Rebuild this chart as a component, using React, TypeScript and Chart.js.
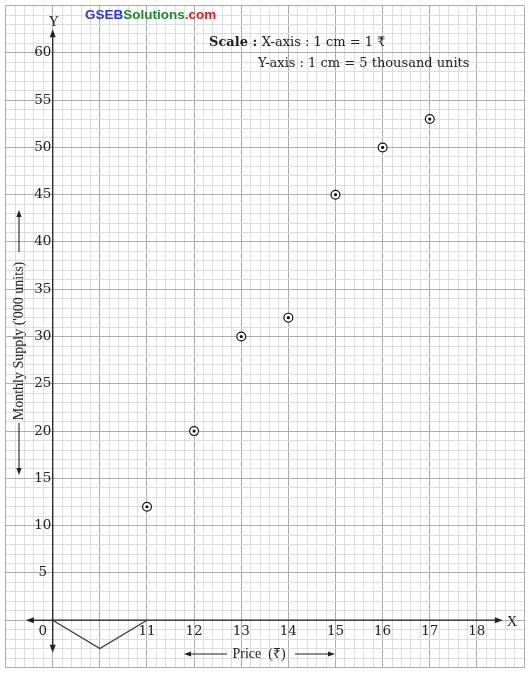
import React, { useRef, useEffect } from "react";
import Chart from "chart.js/auto";

// price (₹) against monthly supply ('000 units)
const prices = [11, 12, 13, 14, 15, 16, 17];
const supply = [12, 20, 30, 32, 45, 50, 53];

// the x axis is broken between 0 and 11: the origin stands at price 9 and is labelled "0"
const originX = 9;
const xTicks = [11, 12, 13, 14, 15, 16, 17, 18];
const yTicks = [5, 10, 15, 20, 25, 30, 35, 40, 45, 50, 55, 60];
const breakMark = [
  { x: 9, y: 0 },
  { x: 10, y: -3 },
  { x: 11, y: 0 },
];
// axis extents (data units), arrow tip at each end
const xAxisSpan = [8.43, 18.55];
const yAxisSpan = [-3.45, 62.5];

const INK = "#222";
const SERIF = '"DejaVu Serif", serif';
const TIMES = '"Liberation Serif", serif';

function arrow(ctx: CanvasRenderingContext2D, x1: number, y1: number, x2: number, y2: number, len = 8, half = 3) {
  const a = Math.atan2(y2 - y1, x2 - x1);
  ctx.beginPath();
  ctx.moveTo(x1, y1);
  ctx.lineTo(x2 - Math.cos(a) * len * 0.6, y2 - Math.sin(a) * len * 0.6);
  ctx.stroke();
  ctx.beginPath();
  ctx.moveTo(x2, y2);
  ctx.lineTo(x2 - Math.cos(a) * len - Math.sin(a) * half, y2 - Math.sin(a) * len + Math.cos(a) * half);
  ctx.lineTo(x2 - Math.cos(a) * len + Math.sin(a) * half, y2 - Math.sin(a) * len - Math.cos(a) * half);
  ctx.closePath();
  ctx.fill();
}

const paperPlugin = {
  id: "paper",
  beforeDraw(chart: any) {
    const { ctx, width, height } = chart;
    ctx.save();
    ctx.fillStyle = "#fff";
    ctx.fillRect(0, 0, width, height);
    ctx.restore();
  },
  beforeDatasetsDraw(chart: any) {
    const { ctx } = chart;
    const { x, y } = chart.scales;
    const px = (v: number) => x.getPixelForValue(v);
    const py = (v: number) => y.getPixelForValue(v);
    ctx.save();
    ctx.strokeStyle = INK;
    ctx.fillStyle = INK;
    ctx.lineWidth = 1.3;
    // both ends of each axis carry an arrow
    const x0 = px(originX);
    const y0 = py(0);
    arrow(ctx, x0, y0, px(xAxisSpan[1]), y0);
    arrow(ctx, x0, y0, px(xAxisSpan[0]), y0);
    arrow(ctx, x0, y0, x0, py(yAxisSpan[1]));
    arrow(ctx, x0, y0, x0, py(yAxisSpan[0]));

    // tick labels
    ctx.fillStyle = INK;
    ctx.font = "13.5px " + SERIF;
    ctx.textAlign = "center";
    ctx.textBaseline = "middle";
    xTicks.forEach((t) => ctx.fillText(String(t), px(t), y0 + 11));
    ctx.fillText("0", x0 - 10, y0 + 11);
    yTicks.forEach((t) => ctx.fillText(String(t), x0 - 10, py(t)));

    // axis names
    ctx.font = "14px " + TIMES;
    ctx.fillText("Y", x0 + 1, 22);
    ctx.fillText("X", 512, y0 + 2);
    ctx.restore();
  },
  afterDraw(chart: any) {
    const { ctx } = chart;
    ctx.save();
    ctx.fillStyle = INK;
    ctx.strokeStyle = INK;
    ctx.lineWidth = 1.1;

    // y axis title, rotated, with arrows either side
    ctx.save();
    ctx.translate(19, 341);
    ctx.rotate(-Math.PI / 2);
    ctx.font = "14px " + TIMES;
    ctx.textAlign = "center";
    ctx.textBaseline = "middle";
    ctx.fillText("Monthly Supply ('000 units)", 0, 0);
    ctx.restore();
    arrow(ctx, 19, 252, 19, 210, 7, 2.6);
    arrow(ctx, 19, 423, 19, 475, 7, 2.6);

    // x axis title
    ctx.font = "14px " + TIMES;
    ctx.textAlign = "center";
    ctx.textBaseline = "middle";
    ctx.fillText("Price  (₹)", 259, 654);
    arrow(ctx, 227, 654, 184, 654, 7, 2.6);
    arrow(ctx, 295, 654, 335, 654, 7, 2.6);

    // scale note
    ctx.textAlign = "left";
    ctx.textBaseline = "alphabetic";
    ctx.font = "bold 13px " + SERIF;
    ctx.fillText("Scale :", 209, 46);
    const w = ctx.measureText("Scale : ").width;
    ctx.font = "13px " + SERIF;
    ctx.fillText("X-axis : 1 cm = 1 ₹", 209 + w, 46);
    ctx.fillText("Y-axis : 1 cm = 5 thousand units", 258, 66.5);

    // site watermark
    ctx.font = 'bold 13.5px "Liberation Sans", sans-serif';
    const parts: [string, string][] = [
      ["GSEB", "#2a37d8"],
      ["Solutions", "#1c8a2a"],
      [".com", "#e01c1c"],
    ];
    let cx = 85;
    parts.forEach(([s, c]) => {
      ctx.fillStyle = c;
      ctx.fillText(s, cx, 18.5);
      cx += ctx.measureText(s).width;
    });
    ctx.restore();
  },
};

const isWhole = (v: number) => Math.abs(v - Math.round(v)) < 1e-6;

const App: React.FC = () => {
  const canvasRef = useRef<HTMLCanvasElement | null>(null);

  useEffect(() => {
    if (!canvasRef.current) return;
    const points = prices.map((p, i) => ({ x: p, y: supply[i] }));

    // Chart.js paints the last dataset first, so the centre dot comes before the ring
    const chart = new Chart(canvasRef.current, {
      type: "scatter",
      data: {
        datasets: [
          {
            type: "line",
            data: breakMark,
            borderColor: "#333",
            borderWidth: 1.1,
            pointRadius: 0,
            tension: 0,
            fill: false,
          },
          {
            data: points,
            pointRadius: 1.6,
            pointBorderWidth: 0,
            pointBackgroundColor: "#111",
          },
          {
            data: points,
            pointRadius: 4.4,
            pointBorderWidth: 1.2,
            pointBorderColor: "#111",
            pointBackgroundColor: "#fff",
          },
        ],
      },
      options: {
        responsive: false,
        animation: false,
        layout: { padding: { left: 4, right: 6, top: 5, bottom: 7.5 } },
        plugins: { legend: { display: false }, tooltip: { enabled: false } },
        scales: {
          x: {
            type: "linear",
            min: 8,
            max: 19,
            ticks: { display: false, stepSize: 0.2 },
            grid: {
              drawTicks: false,
              lineWidth: 1,
              color: (c: any) => (isWhole(c.tick.value) ? "#adadad" : "#dedede"),
            },
            border: { display: false },
          },
          y: {
            type: "linear",
            min: -5,
            max: 65,
            ticks: { display: false, stepSize: 1 },
            grid: {
              drawTicks: false,
              lineWidth: 1,
              color: (c: any) => (c.tick.value % 5 === 0 ? "#adadad" : "#dedede"),
            },
            border: { display: false },
          },
        },
      },
      plugins: [paperPlugin],
    });

    return () => chart.destroy();
  }, []);

  return (
    <div style={{ position: "absolute", left: 0, top: 0, width: 530, height: 675 }}>
      <canvas ref={canvasRef} width={530} height={675} style={{ width: 530, height: 675 }} />
    </div>
  );
};

export default App;
